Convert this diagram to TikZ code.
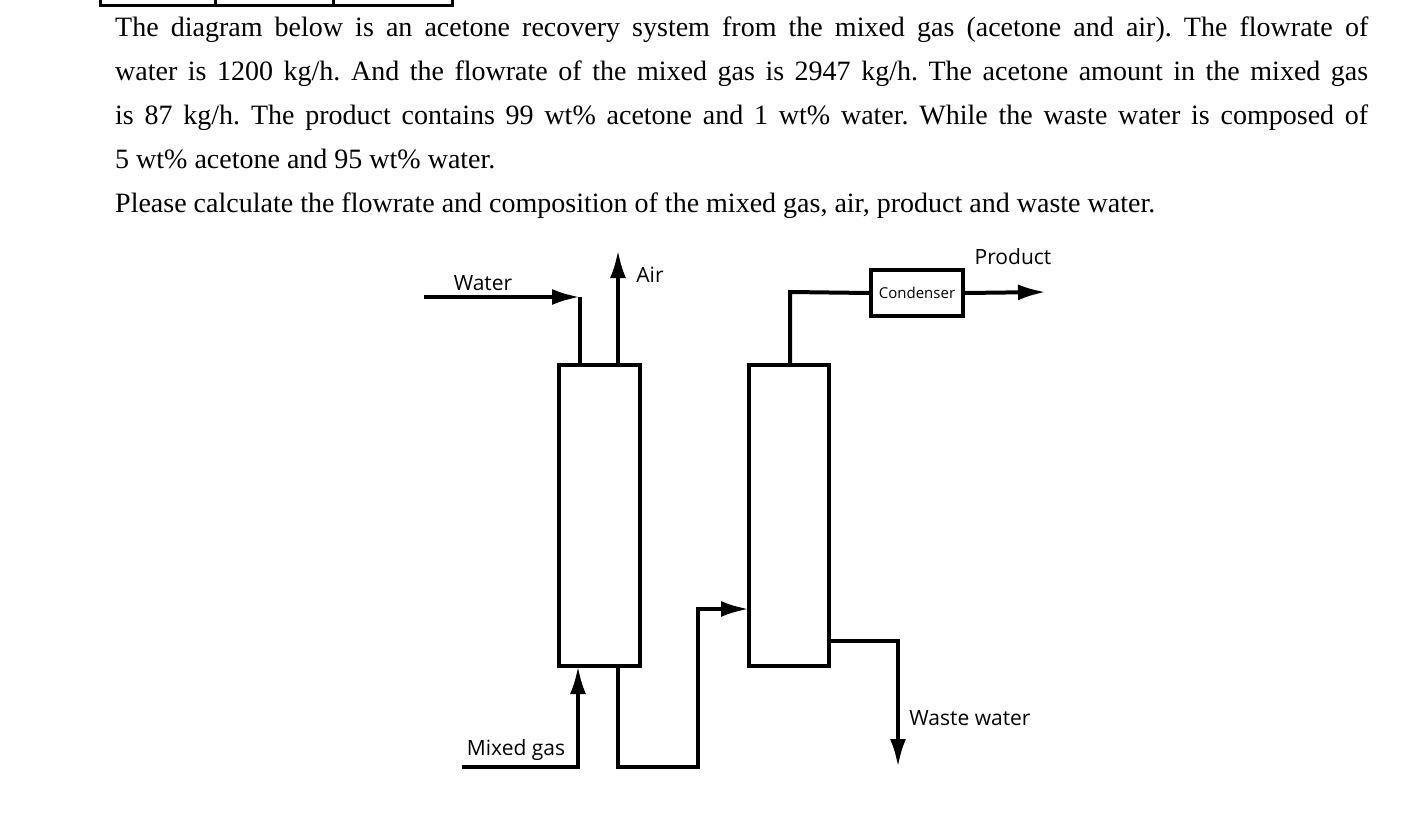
\documentclass[tikz,border=0pt]{standalone}
\usepackage{fontspec}
\setmainfont{Liberation Serif}
\newfontfamily\lab{Open Sans}
\usetikzlibrary{arrows.meta}
\begin{document}
\frenchspacing
\begin{tikzpicture}[x=1pt,y=-1pt,
  pipe/.style={line width=4pt},
  flow/.style={pipe,-{Latex[length=28pt,width=16pt]}},
  lbl/.style={font=\lab\fontsize{21}{24}\selectfont,inner sep=0pt},
  box/.style={draw,line width=4pt}]
\useasboundingbox (0,0) rectangle (1407,819);
% partial table at top
\draw[line width=3pt] (100,-5) -- (100,5) -- (452,5) -- (452,-5);
\draw[line width=3pt] (215,-5) -- (215,5) (333,-5) -- (333,5);
% text
\node[anchor=north west,inner sep=0pt,text width=1253pt,align=justify,
  font=\fontsize{28}{44}\selectfont] (txt) at (115,17)
 {\spaceskip=0.25em plus 1em minus 0.1em
 The diagram below is an acetone recovery system from the mixed gas (acetone and air). The flowrate of\linebreak water is 1200 kg/h. And the flowrate of the mixed gas is 2947 kg/h. The acetone amount in the mixed gas\linebreak is 87 kg/h. The product contains 99 wt\% acetone and 1 wt\% water. While the waste water is composed of\linebreak 5 wt\% acetone and 95 wt\% water.\par
 Please calculate the flowrate and composition of the mixed gas, air, product and waste water.};
% columns
\node[box,minimum width=81pt,minimum height=301pt,inner sep=0pt] (c1) at (599.5,515.5) {};
\node[box,minimum width=80pt,minimum height=301pt,inner sep=0pt] (c2) at (789,515.5) {};
\node[box,minimum width=92pt,minimum height=46pt,inner sep=0pt,font=\lab\fontsize{15}{17}\selectfont] (cond) at (917,293) {Condenser};
% coordinates
\coordinate (w0) at (424,297); \coordinate (w1) at (580,297);
\coordinate (a0) at (618,365); \coordinate (a1) at (618,250);
\coordinate (m0) at (462,767); \coordinate (m1) at (578,767); \coordinate (m2) at (578,666);
\coordinate (b0) at (618,666); \coordinate (b1) at (618,767); \coordinate (b2) at (698,767);
\coordinate (b3) at (698,609); \coordinate (b4) at (749,609);
\coordinate (t0) at (790,365); \coordinate (t1) at (790,292);
\coordinate (p1) at (1046,292);
\coordinate (ww0) at (829,641); \coordinate (ww1) at (898,641); \coordinate (ww2) at (898,767);
% streams
\draw[flow] (w0) -- (w1);
\draw[pipe] (w1) -- (580,365);
\draw[flow] (a0) -- (a1);
\draw[flow] (m0) -- (m1) -- (m2);
\draw[flow] (b0) -- (b1) -- (b2) -- (b3) -- (b4);
\draw[pipe] (t0) -- (t1) -- (cond.west);
\draw[flow] (cond.east) -- (p1);
\draw[flow] (ww0) -- (ww1) -- (ww2);
% labels
\node[lbl] (lw) at (483,283) {Water};
\node[lbl] (la) at (650,275) {Air};
\node[lbl] (lp) at (1013,257) {Product};
\node[lbl] (lm) at (516,750) {Mixed gas};
\node[lbl] (lww) at (970,718) {Waste water};
\end{tikzpicture}
\end{document}
